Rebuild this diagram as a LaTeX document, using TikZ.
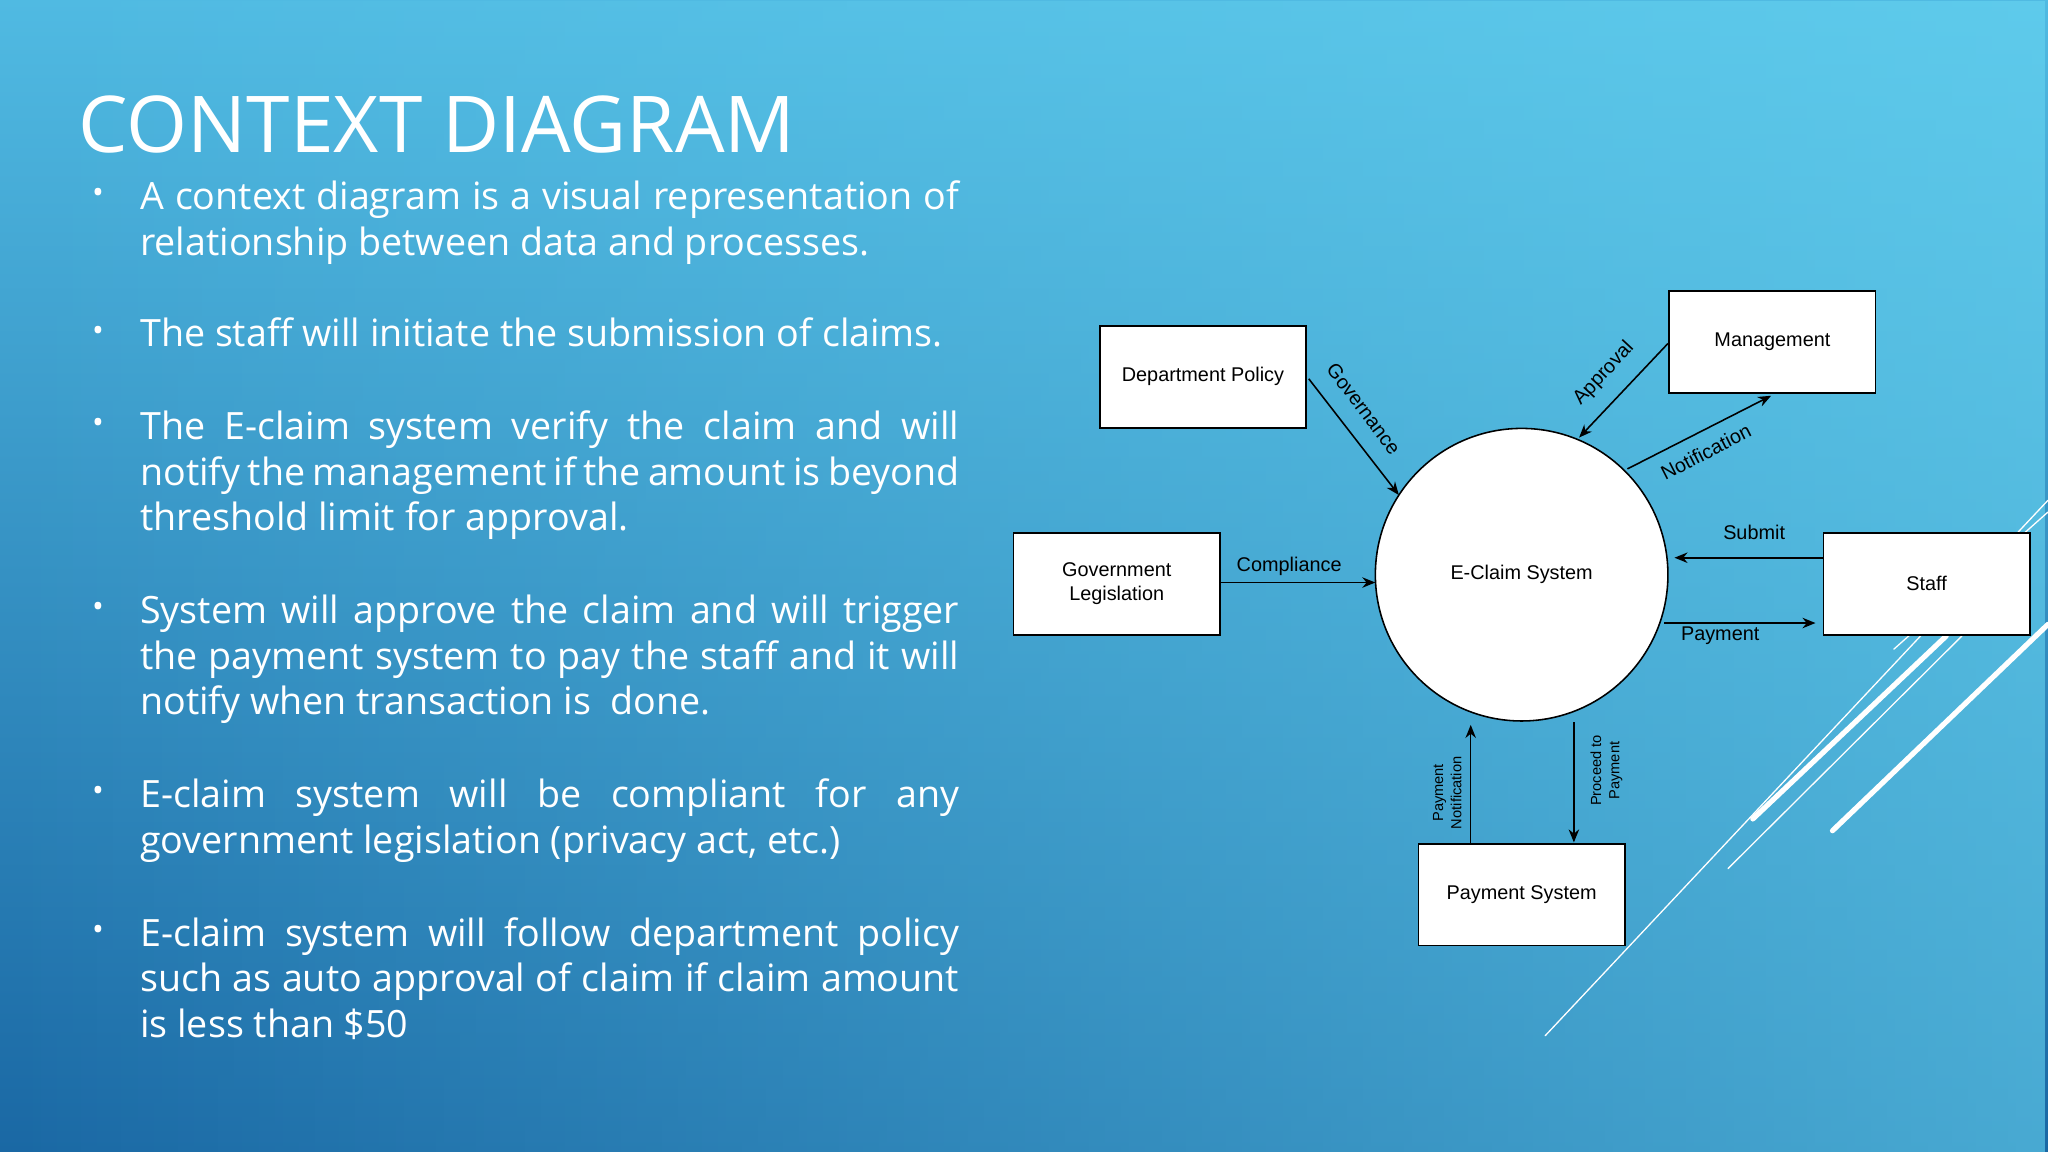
\documentclass[tikz,border=0pt]{standalone}
\usepackage{fontspec}
\setmainfont{Open Sans}
\newfontfamily\arialf{Liberation Sans}
\usetikzlibrary{arrows.meta,fadings}
\definecolor{bgtop}{RGB}{80,186,226}
\definecolor{bgbot}{RGB}{26,104,164}
\definecolor{bgcyan}{RGB}{104,214,242}
\hyphenpenalty=10000 \exhyphenpenalty=10000
\tikzset{
  ent/.style={draw=black,fill=white,line width=0.6pt,minimum width=79pt,minimum height=39pt,inner sep=1pt,align=center,font=\arialf\fontsize{7.6}{9}\selectfont},
  flow/.style={draw=black,line width=0.6pt,-{Stealth[length=5pt,width=4pt]}},
  lab/.style={font=\arialf\fontsize{7.6}{9}\selectfont,inner sep=1pt},
  slab/.style={font=\arialf\fontsize{5.6}{7}\selectfont,inner sep=1pt,align=center},
  btxt/.style={anchor=north west,inner sep=0pt,text width=313.5pt,align=justify,text=white,font=\fontsize{14.4}{17.5}\selectfont},
  bdot/.style={text=white,font=\fontsize{12}{14}\selectfont,inner sep=0pt},
  deco/.style={draw=white,line cap=round}
}
\begin{document}
\begin{tikzpicture}[x=0.5pt,y=-0.5pt]
\useasboundingbox (0,0) rectangle (1568,882);
\shade[top color=bgtop,bottom color=bgbot] (0,0) rectangle (1568,882);
\fill[bgcyan,path fading=west,opacity=0.6] (0,0) rectangle (1568,882);
% decorative lines
\draw[deco,line width=0.5pt] (1183,793) -- (1568,383);
\draw[deco,line width=2pt] (1403,636) -- (1568,478);
\draw[deco,line width=2pt] (1342,627) -- (1490,487);
\draw[deco,line width=0.5pt] (1323,665) -- (1502,487);
\draw[deco,line width=0.5pt] (1450,497) -- (1568,392);
% title
\node[anchor=base west,inner sep=0pt,text=white,font=\fontsize{30}{30}\selectfont] (title) at (60,117) {CONTEXT DIAGRAM};
% bullets
\foreach \y/\n in {150/1,256/2,326/3,467/4,608/5,714/6}{\node[bdot] (d\n) at (75,\y) {•};}
\node[btxt] (b1) at (107,138) {A context diagram is a visual representation of relationship between data and processes.};
\node[btxt] (b2) at (107,243) {The staff will initiate the submission of claims.};
\node[btxt] (b3) at (107,314) {The E-claim system verify the claim and will notify the management if the amount is beyond threshold limit for approval.};
\node[btxt] (b4) at (107,455) {System will approve the claim and will trigger the payment system to pay the staff and it will notify when transaction is\ \ done.};
\node[btxt] (b5) at (107,596) {E-claim system will be compliant for any government legislation (privacy act, etc.)};
\node[btxt] (b6) at (107,702) {E-claim system will follow department policy such as auto approval of claim if claim amount is less than \$50};
% diagram
\node[ent] (dp) at (921,288.5) {Department Policy};
\node[ent] (mg) at (1357,262) {Management};
\node[ent] (gl) at (855,447) {Government\\Legislation};
\node[ent] (st) at (1475,447) {Staff};
\node[ent] (ps) at (1165,685) {Payment System};
\node[draw=black,fill=white,line width=0.6pt,circle,minimum size=112pt,inner sep=0pt,font=\arialf\fontsize{7.6}{9}\selectfont] (ec) at (1165,440) {E-Claim System};
\coordinate (g1) at (1002,290); \coordinate (g2) at (1071,379);
\draw[flow] (g1) -- (g2);
\coordinate (a1) at (1277,263); \coordinate (a2) at (1209,335);
\draw[flow] (a1) -- (a2);
\coordinate (n1) at (1246,359); \coordinate (n2) at (1356,303);
\draw[flow] (n1) -- (n2);
\coordinate (c1) at (934,446); \coordinate (c2) at (1053,446);
\draw[flow] (c1) -- (c2);
\coordinate (s1) at (1396,427); \coordinate (s2) at (1282,427);
\draw[flow] (s1) -- (s2);
\coordinate (p1) at (1274,477); \coordinate (p2) at (1390,477);
\draw[flow] (p1) -- (p2);
\coordinate (pn1) at (1126,646); \coordinate (pn2) at (1126,555);
\draw[flow] (pn1) -- (pn2);
\coordinate (pp1) at (1205,553); \coordinate (pp2) at (1205,645);
\draw[flow] (pp1) -- (pp2);
\node[lab,rotate=-53] (lg) at (1044,313) {Governance};
\node[lab,rotate=47] (la) at (1228,286) {Approval};
\node[lab,rotate=27] (ln) at (1306,346) {Notification};
\node[lab] (lc) at (987,434) {Compliance};
\node[lab] (ls) at (1343,408) {Submit};
\node[lab] (lp) at (1317,487) {Payment};
\node[slab,rotate=90] (lpn) at (1108,607) {Payment\\Notification};
\node[slab,rotate=90] (lpp) at (1230,590) {Proceed to\\Payment};
\end{tikzpicture}
\end{document}
